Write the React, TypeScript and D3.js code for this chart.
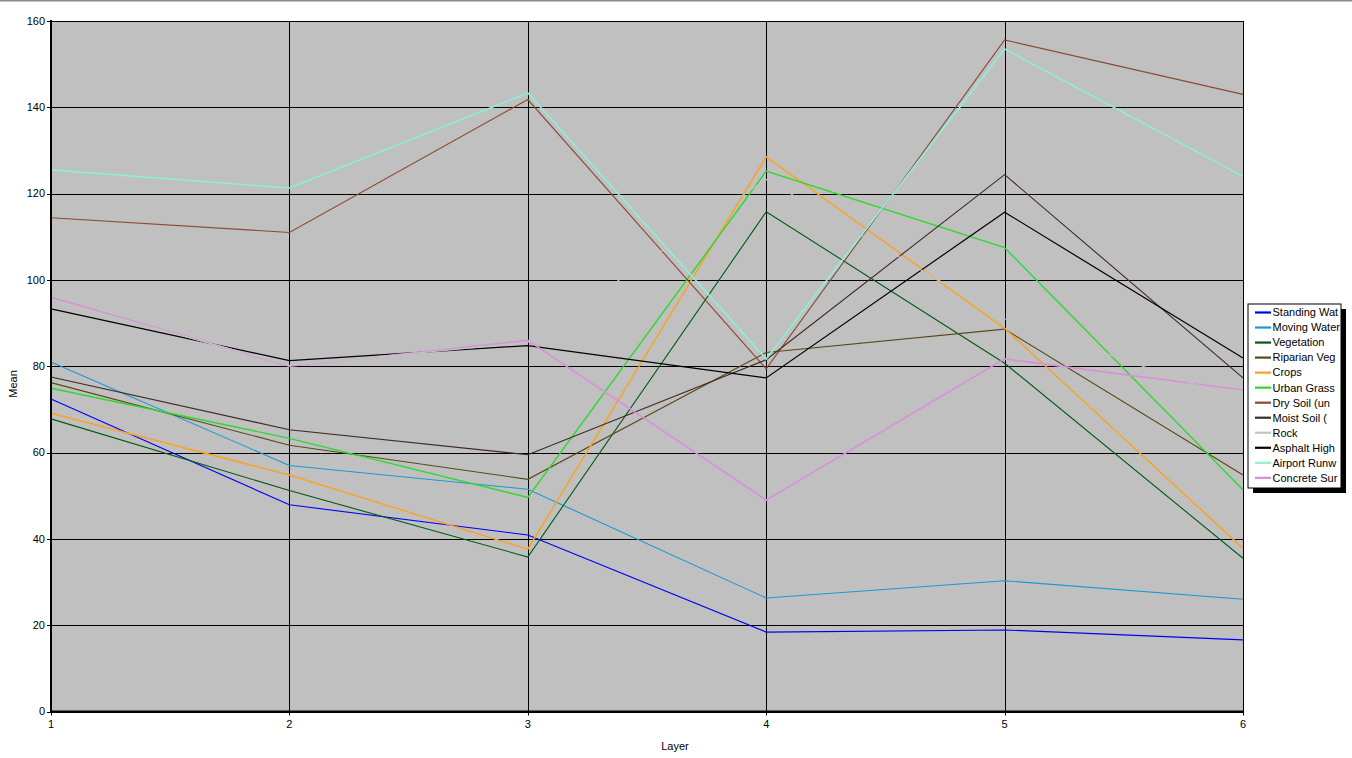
import React from "react";
import * as d3 from "d3";

const layers = [1, 2, 3, 4, 5, 6];
const yTicks = [0, 20, 40, 60, 80, 100, 120, 140, 160];

const seriesNames = [
  "Standing Wat",
  "Moving Water",
  "Vegetation",
  "Riparian Veg",
  "Crops",
  "Urban Grass",
  "Dry Soil (un",
  "Moist Soil (",
  "Rock",
  "Asphalt High",
  "Airport Runw",
  "Concrete Sur",
];

const standingWater = [72.4, 47.9, 40.9, 18.4, 18.9, 16.6];
const movingWater = [81.0, 57.0, 51.5, 26.3, 30.3, 26.0];
const vegetation = [67.8, 51.2, 35.8, 115.8, 80.7, 35.5];
const riparianVeg = [76.2, 61.7, 53.8, 83.2, 88.6, 54.8];
const crops = [69.1, 54.8, 37.6, 128.5, 88.8, 37.8];
const urbanGrass = [74.9, 63.3, 49.6, 125.2, 107.5, 51.4];
const drySoil = [114.4, 111.0, 141.8, 79.4, 155.6, 143.0];
const moistSoil = [77.5, 65.3, 59.5, 81.5, 124.4, 77.3];
const rock = [95.5, 80.2, 85.5, 123.3, 91.0, 72.0];
const asphalt = [93.3, 81.3, 84.8, 77.3, 115.7, 81.9];
const airport = [125.5, 121.3, 143.3, 81.7, 153.5, 124.0];
const concrete = [96.0, 80.0, 86.0, 49.0, 81.7, 74.5];

const seriesValues = [
  standingWater,
  movingWater,
  vegetation,
  riparianVeg,
  crops,
  urbanGrass,
  drySoil,
  moistSoil,
  rock,
  asphalt,
  airport,
  concrete,
];

const seriesColors = [
  "#0000f0",
  "#1c98d4",
  "#005a14",
  "#584a16",
  "#f6a32a",
  "#2fd82f",
  "#8a4a34",
  "#3f2a20",
  "#c2c2c2",
  "#000000",
  "#8cefd6",
  "#d890d8",
];

const seriesWidths = [1.1, 1.1, 1.1, 1.1, 1.5, 1.4, 1.1, 1.1, 1.2, 1.2, 1.6, 1.6];

const FONT = "'Liberation Sans', Arial, sans-serif";

export default function App() {
  const W = 1352;
  const H = 758;
  const left = 51;
  const right = 1243;
  const top = 21;
  const bottom = 711.5;

  const x = d3.scaleLinear().domain([1, 6]).range([left, right]);
  const y = d3.scaleLinear().domain([0, 160]).range([bottom, top]);

  const line = d3
    .line<number>()
    .x((_, i) => x(layers[i]))
    .y((d) => y(d));

  const drawOrder = [0, 1, 2, 3, 4, 5, 6, 7, 9, 10, 11, 8];

  const legX = 1248;
  const legY = 304;
  const legW = 93;
  const legH = 184;

  return (
    <svg
      width={W}
      height={H}
      style={{ position: "absolute", left: 0, top: 0, background: "#fff" }}
      fontFamily={FONT}
    >
      <rect x={0} y={0} width={W} height={H} fill="#fff" />
      <rect x={0} y={0} width={W} height={1.5} fill="#8a8a8a" />

      {/* plot background */}
      <rect x={left} y={top} width={right - left} height={bottom - top} fill="#c0c0c0" />

      {/* horizontal gridlines */}
      {yTicks.map((t) => (
        <line
          key={"gy" + t}
          x1={left - 4}
          x2={right}
          y1={Math.round(y(t)) + 0.5}
          y2={Math.round(y(t)) + 0.5}
          stroke="#000"
          strokeWidth={1}
        />
      ))}
      {/* vertical gridlines */}
      {layers.map((l) => (
        <line
          key={"gx" + l}
          x1={Math.round(x(l)) + 0.5}
          x2={Math.round(x(l)) + 0.5}
          y1={top}
          y2={bottom + 4}
          stroke="#000"
          strokeWidth={1}
        />
      ))}

      {/* series */}
      {drawOrder.map((si) => (
        <path
          key={seriesNames[si]}
          d={line(seriesValues[si]) || ""}
          fill="none"
          stroke={seriesColors[si]}
          strokeWidth={seriesWidths[si]}
        />
      ))}

      {/* axes frame */}
      <line x1={left} x2={left} y1={top - 1} y2={bottom + 1} stroke="#000" strokeWidth={2} />
      <line x1={left - 1} x2={right + 1} y1={bottom} y2={bottom} stroke="#000" strokeWidth={2} />
      <line x1={left} x2={right + 1} y1={top + 0.5} y2={top + 0.5} stroke="#000" strokeWidth={1} />
      <line x1={right + 0.5} x2={right + 0.5} y1={top} y2={bottom} stroke="#000" strokeWidth={1} />

      {/* y tick labels */}
      {yTicks.map((t) => (
        <text
          key={"ty" + t}
          x={45}
          y={y(t)}
          dy="0.35em"
          textAnchor="end"
          fontSize={11}
          fill="#000"
        >
          {t}
        </text>
      ))}
      {/* x tick labels */}
      {layers.map((l) => (
        <text
          key={"tx" + l}
          x={x(l)}
          y={727.5}
          textAnchor="middle"
          fontSize={11}
          fill="#000"
        >
          {l}
        </text>
      ))}

      <text x={675} y={750} textAnchor="middle" fontSize={11} fill="#000">
        Layer
      </text>
      <text
        transform="translate(17,384) rotate(-90)"
        textAnchor="middle"
        fontSize={11}
        fill="#000"
      >
        Mean
      </text>

      {/* legend */}
      <rect x={legX + 5} y={legY + 5} width={legW} height={legH} fill="#000" />
      <rect x={legX} y={legY} width={legW} height={legH} fill="#fff" stroke="#000" strokeWidth={1} />
      {seriesNames.map((name, i) => {
        const ly = 312.5 + i * 15.03;
        return (
          <g key={"lg" + name}>
            <line
              x1={1255}
              x2={1271}
              y1={ly}
              y2={ly}
              stroke={seriesColors[i]}
              strokeWidth={2.2}
            />
            <text x={1272.5} y={ly} dy="0.35em" fontSize={11} fill="#000">
              {name}
            </text>
          </g>
        );
      })}
    </svg>
  );
}
